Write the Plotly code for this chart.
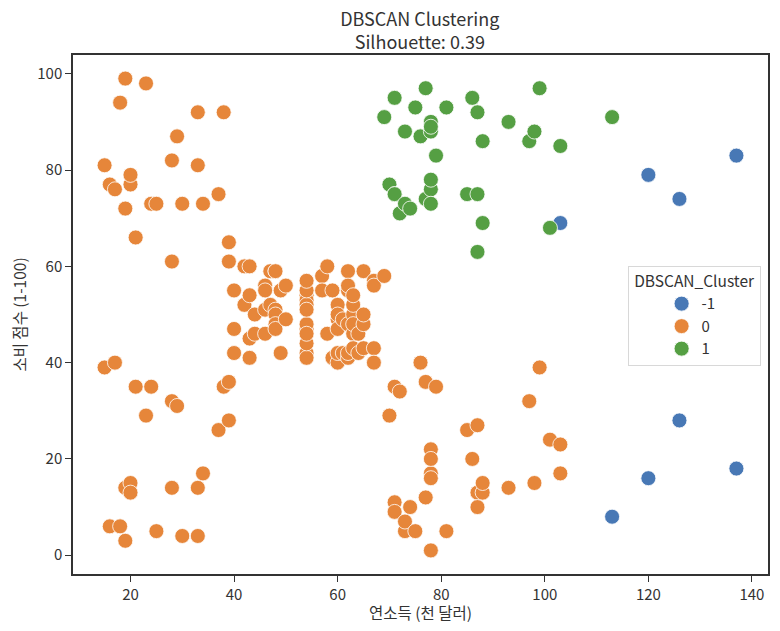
import plotly.graph_objects as go

# annual income / spending score per DBSCAN cluster
noise_income = [103, 113, 120, 120, 126, 126, 137, 137]
noise_score = [69, 8, 16, 79, 28, 74, 18, 83]

c0_income = [15, 15, 16, 16, 17, 17, 18, 18, 19, 19, 19, 19, 20, 20, 20, 20, 21, 21, 23, 23,
             24, 24, 25, 25, 28, 28, 28, 28, 29, 29, 30, 30, 33, 33, 33, 33, 34, 34, 37, 37,
             38, 38, 39, 39, 39, 39, 40, 40, 40, 40, 42, 42, 43, 43, 43, 43, 44, 44, 46, 46,
             46, 46, 47, 47, 48, 48, 48, 48, 48, 48, 49, 49, 50, 50, 54, 54, 54, 54, 54, 54,
             54, 54, 54, 54, 54, 54, 57, 57, 58, 58, 59, 59, 60, 60, 60, 60, 60, 60, 61, 61,
             62, 62, 62, 62, 62, 62, 63, 63, 63, 63, 63, 63, 64, 64, 65, 65, 65, 65, 67, 67,
             67, 67, 69, 70, 71, 71, 71, 72, 73, 73, 74, 75, 76, 77, 77, 78, 78, 78, 78, 78,
             78, 79, 81, 85, 86, 87, 87, 87, 88, 88, 93, 97, 98, 99, 101, 103, 103]
c0_score = [39, 81, 6, 77, 40, 76, 6, 94, 3, 72, 14, 99, 15, 77, 13, 79, 35, 66, 29, 98,
            35, 73, 5, 73, 14, 82, 32, 61, 31, 87, 4, 73, 4, 92, 14, 81, 17, 73, 26, 75,
            35, 92, 36, 61, 28, 65, 55, 47, 42, 42, 52, 60, 54, 60, 45, 41, 50, 46, 51, 46,
            56, 55, 52, 59, 51, 59, 50, 48, 59, 47, 55, 42, 49, 56, 47, 54, 53, 48, 52, 42,
            51, 55, 41, 44, 57, 46, 58, 55, 60, 46, 55, 41, 49, 40, 42, 52, 47, 50, 42, 49,
            41, 48, 59, 55, 56, 42, 50, 46, 43, 48, 52, 54, 42, 46, 48, 50, 43, 59, 43, 57,
            56, 40, 58, 29, 35, 11, 9, 34, 5, 7, 10, 5, 40, 12, 36, 22, 17, 20, 16, 1,
            1, 35, 5, 26, 20, 27, 13, 10, 13, 15, 14, 32, 15, 39, 24, 17, 23]

c1_income = [69, 70, 71, 71, 71, 72, 73, 73, 74, 75, 76, 77, 77, 78, 78, 78, 78, 78, 78,
             79, 81, 85, 86, 87, 87, 87, 88, 88, 93, 97, 98, 99, 101, 103, 113]
c1_score = [91, 77, 95, 75, 75, 71, 88, 73, 72, 93, 87, 97, 74, 90, 88, 76, 89, 78, 73,
            83, 93, 75, 95, 63, 75, 92, 86, 69, 90, 86, 88, 97, 68, 85, 91]

groups = [("-1", noise_income, noise_score, "#4878B5"),
          ("0", c0_income, c0_score, "#E6863A"),
          ("1", c1_income, c1_score, "#559F43")]

x_ticks = [20, 40, 60, 80, 100, 120, 140]
y_ticks = [0, 20, 40, 60, 80, 100]

font = "Noto Sans CJK KR"
ink = "#333333"

fig = go.Figure()
for name, xs, ys, color in groups:
    fig.add_trace(go.Scatter(x=xs, y=ys, mode="markers", name=name,
                             marker=dict(size=15, color=color, line=dict(color="#FFFFFF", width=0.8))))

axis = dict(showgrid=False, zeroline=False, showline=True, mirror=True, linecolor="#333333", linewidth=1.5,
            ticks="outside", ticklen=6, tickwidth=1.2, tickcolor=ink, tickfont=dict(size=15, color=ink),
            automargin=False)

# the page body adds 8px around the figure, so size and margins allow for it
fig.update_layout(
    width=764, height=615, autosize=False,
    margin=dict(l=65, r=4, t=47, b=49),
    paper_bgcolor="white", plot_bgcolor="white",
    font=dict(family=font, color=ink),
    title=dict(text="DBSCAN Clustering<br>Silhouette: 0.39", x=0.539, xanchor="center", y=0.971, yanchor="middle",
               font=dict(size=18, color=ink)),
    legend=dict(title=dict(text="\u00a0DBSCAN_Cluster\u00a0", side="top center", font=dict(size=15.5, color=ink)),
                x=0.798, xanchor="left", y=0.593, yanchor="top", indentation=33,
                entrywidth=65, entrywidthmode="pixels",
                bgcolor="white", bordercolor="#D8D8D8", borderwidth=1,
                font=dict(size=15, color=ink), itemsizing="trace"),
)
fig.update_xaxes(axis, range=[8.9, 143.1], tickvals=x_ticks,
                 title=dict(text="연소득 (천 달러)", font=dict(size=15.5, color=ink), standoff=8))
fig.update_yaxes(axis, range=[-3.9, 103.9], tickvals=y_ticks,
                 title=dict(text="소비 점수 (1-100)", font=dict(size=15.5, color=ink), standoff=9))

fig.write_html("out.html")
